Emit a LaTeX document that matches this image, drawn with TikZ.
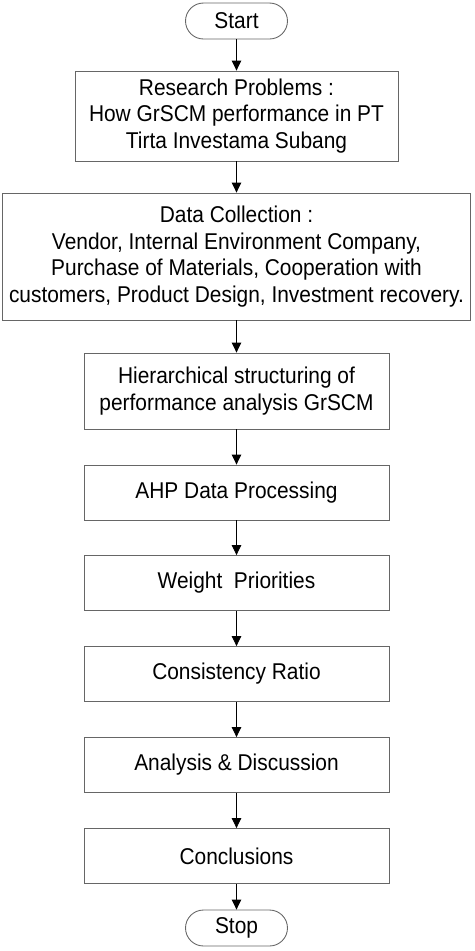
\documentclass[tikz,border=0pt]{standalone}
\usepackage{fontspec}
\setmainfont[FakeStretch=0.915]{Liberation Sans}
\usetikzlibrary{arrows.meta}
\begin{document}
\begin{tikzpicture}[x=0.02cm, y=-0.02cm,
    box/.style={draw=black!60, line width=0.5pt, align=center, inner sep=0pt,
                font=\fontsize{13}{15.2}\selectfont},
    terminal/.style={box, rounded corners=0.36cm, minimum width=2.04cm, minimum height=0.72cm},
    flow/.style={-{Triangle[length=0.2cm, width=0.19cm]}, line width=0.5pt}]
                    \useasboundingbox (0, 0) rectangle (474, 951);
                    \node[terminal] (start) at (236.5, 21) {Start};
                    \node[box, minimum width=6.46cm, minimum height=1.8cm] (problem) at (236.5, 116)
                        {Research Problems :\\How GrSCM performance in PT\\Tirta Investama Subang};
                    \node[box, minimum width=9.36cm, minimum height=2.54cm] (collect) at (236.5, 256.5)
                        {Data Collection :\\Vendor, Internal Environment Company,\\Purchase of Materials, Cooperation with\\customers, Product Design, Investment recovery.};
                    \node[box, minimum width=6.1cm, minimum height=1.52cm] (hierarchy) at (236.5, 391)
                        {Hierarchical structuring of\\performance analysis GrSCM};
                    \node[box, minimum width=6.1cm, minimum height=1.1cm] (ahp) at (236.5, 492.5) {AHP Data Processing};
                    \node[box, minimum width=6.1cm, minimum height=1.1cm] (weight) at (236.5, 583) {Weight\ \ Priorities};
                    \node[box, minimum width=6.1cm, minimum height=1.1cm] (ratio) at (236.5, 674) {Consistency Ratio};
                    \node[box, minimum width=6.1cm, minimum height=1.1cm] (analysis) at (236.5, 765) {Analysis \& Discussion};
                    \node[box, minimum width=6.1cm, minimum height=1.1cm] (conclude) at (236.5, 856) {Conclusions};
                    \node[terminal] (stop) at (236.5, 928) {Stop};
                    \foreach \a/\b in {start/problem, problem/collect, collect/hierarchy, hierarchy/ahp,
                                       ahp/weight, weight/ratio, ratio/analysis, analysis/conclude, conclude/stop}
                        \draw[flow] (\a) -- (\b);
                \end{tikzpicture}
\end{document}
